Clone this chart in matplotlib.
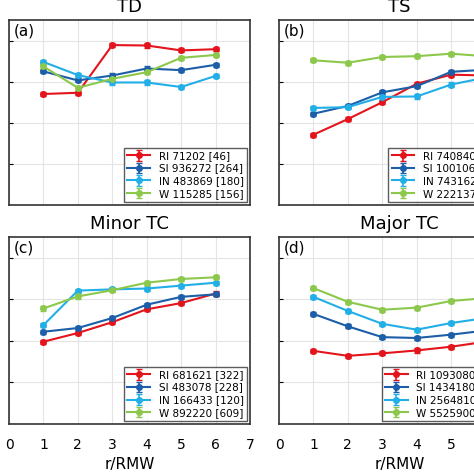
import numpy as np
import matplotlib
matplotlib.use("Agg")
import matplotlib.pyplot as plt

r = np.arange(1, 7)

# panel (a) TD
td_ri = [2.70, 2.73, 3.89, 3.88, 3.76, 3.79]
td_si = [3.25, 3.03, 3.15, 3.32, 3.28, 3.41]
td_in = [3.48, 3.16, 2.98, 2.98, 2.87, 3.14]
td_w = [3.37, 2.85, 3.07, 3.23, 3.58, 3.65]
# panel (b) TS
ts_ri = [1.71, 2.09, 2.50, 2.95, 3.17, 3.15]
ts_si = [2.22, 2.41, 2.74, 2.89, 3.24, 3.29]
ts_in = [2.36, 2.38, 2.63, 2.64, 2.93, 3.10]
ts_w = [3.52, 3.46, 3.60, 3.62, 3.68, 3.62]
# panel (c) Minor TC
mi_ri = [1.98, 2.19, 2.45, 2.76, 2.91, 3.14]
mi_si = [2.22, 2.31, 2.55, 2.87, 3.06, 3.12]
mi_in = [2.38, 3.21, 3.24, 3.26, 3.33, 3.40]
mi_w = [2.78, 3.07, 3.22, 3.40, 3.49, 3.53]
# panel (d) Major TC
ma_ri = [1.76, 1.64, 1.70, 1.77, 1.86, 1.98]
ma_si = [2.65, 2.35, 2.09, 2.07, 2.15, 2.25]
ma_in = [3.06, 2.72, 2.41, 2.27, 2.43, 2.55]
ma_w = [3.27, 2.94, 2.75, 2.80, 2.96, 3.03]

colors = ["#e3141b", "#1c5ea8", "#22aee6", "#8cc84b"]

panels = [
    ("TD", "(a)", [td_ri, td_si, td_in, td_w],
     ["RI 71202 [46]", "SI 936272 [264]", "IN 483869 [180]", "W 115285 [156]"]),
    ("TS", "(b)", [ts_ri, ts_si, ts_in, ts_w],
     ["RI 740840 [321]", "SI 1001060 [412]", "IN 743162 [298]", "W 2221370 [802]"]),
    ("Minor TC", "(c)", [mi_ri, mi_si, mi_in, mi_w],
     ["RI 681621 [322]", "SI 483078 [228]", "IN 166433 [120]", "W 892220 [609]"]),
    ("Major TC", "(d)", [ma_ri, ma_si, ma_in, ma_w],
     ["RI 1093080 [415]", "SI 1434180 [530]", "IN 2564810 [880]", "W 5525900 [1850]"]),
]

W = 474.0
rects = [
    (9 / W, (W - 205) / W, 241 / W, 185 / W),
    (279 / W, (W - 205) / W, 241 / W, 185 / W),
    (9 / W, (W - 424) / W, 241 / W, 187 / W),
    (279 / W, (W - 424) / W, 241 / W, 187 / W),
]

fig = plt.figure(figsize=(4.74, 4.74), dpi=100)
for i, ((title, tag, series, labels), rect) in enumerate(zip(panels, rects)):
    ax = fig.add_axes(rect)
    for y, c, lab in zip(series, colors, labels):
        ax.errorbar(r, y, yerr=0.05, color=c, lw=1.5, marker="o", ms=4,
                    capsize=2, elinewidth=1.2, label=lab)
    ax.set_xlim(0, 7)
    ax.set_ylim(0, 4.5)
    ax.set_xticks(range(8))
    ax.set_yticks([1, 2, 3, 4])
    ax.set_yticklabels([])
    ax.grid(color="#e4e4e4", lw=0.8)
    ax.set_axisbelow(True)
    ax.tick_params(axis="y", length=3, direction="in")
    ax.tick_params(axis="x", length=0, labelsize=10, pad=10)
    if i < 2:
        ax.set_xticklabels([])
    else:
        ax.set_xlabel("r/RMW", fontsize=11, labelpad=4)
    for s in ax.spines.values():
        s.set_color("#333333")
        s.set_linewidth(1.2)
    ax.set_title(title, fontsize=13, pad=6)
    ax.text(0.02, 0.98, tag, transform=ax.transAxes, ha="left", va="top", fontsize=11)
    ax.legend(loc="lower right", fontsize=7.5, frameon=True, fancybox=False,
              edgecolor="#333333", borderpad=0.3, handlelength=2.2,
              labelspacing=0.25, borderaxespad=0.3)

fig.savefig("out.png", dpi=100)
